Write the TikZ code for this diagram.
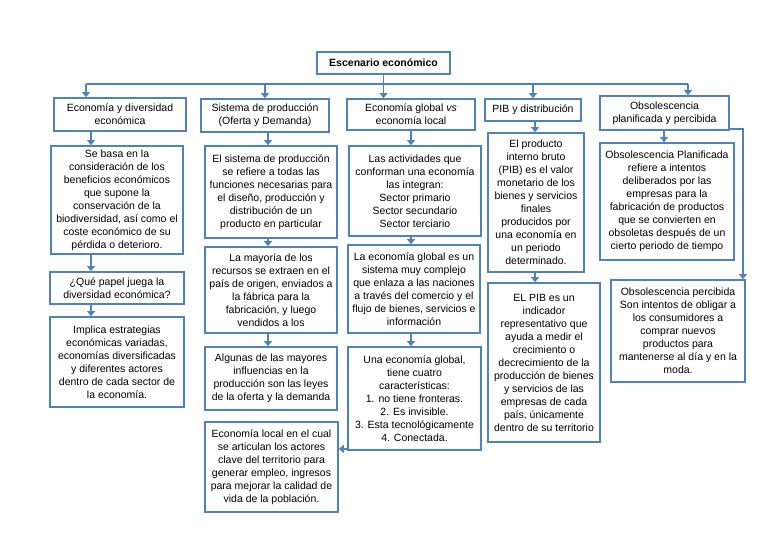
\documentclass[tikz,border=0pt]{standalone}
\usepackage{fontspec}
\setmainfont{Liberation Sans}
\usetikzlibrary{arrows.meta}
\usetikzlibrary{positioning}
\definecolor{boxblue}{RGB}{79,129,189}
\tikzset{every node/.style={inner sep=0pt, outer sep=0.85pt}}
\tikzset{mapbox/.style={rectangle,draw=boxblue,line width=1.7pt,fill=white,align=center,font=\fontsize{10.5}{13}\selectfont}}
\tikzset{conn/.style={draw=boxblue,line width=1.7pt}}
\tikzset{arr/.style={conn,-{Triangle[length=5pt,width=8pt]}}}

\begin{document}
\begin{tikzpicture}[x=1pt,y=-1pt]
    \useasboundingbox (0,0) rectangle (768,543);

    \node[mapbox,minimum width=133,minimum height=22,font=\fontsize{10.5}{13}\selectfont\bfseries] (Title) at (383.5,63) {Escenario económico};

    \node[mapbox,minimum width=132,minimum height=33] (EcoHead) at (120,114.5) {Economía y diversidad\\económica};
    \node[mapbox,minimum width=128,minimum height=33] (ProdHead) at (265,115.5) {Sistema de producción\\(Oferta y Demanda)};
    \node[mapbox,minimum width=128,minimum height=31] (GlobHead) at (411,114.5) {Economía global \textit{vs}\\economía local};
    \node[mapbox,minimum width=96,minimum height=22] (PibHead) at (533,110) {PIB y distribución};
    \node[mapbox,minimum width=129,minimum height=34] (ObsHead) at (664.5,113) {Obsolescencia\\planificada y percibida};

    \node[mapbox,minimum width=132,minimum height=108] (EcoText) at (117,200) {Se basa en la\\consideración de los\\beneficios económicos\\que supone la\\conservación de la\\biodiversidad, así como el\\coste económico de su\\pérdida o deterioro.};
    \node[mapbox,minimum width=134,minimum height=32] (EcoAsk) at (117,288) {¿Qué papel juega la\\diversidad económica?};
    \node[mapbox,minimum width=134,minimum height=90] (EcoAns) at (117,362) {Implica estrategias\\económicas variadas,\\economías diversificadas\\y diferentes actores\\dentro de cada sector de\\la economía.};

    \node[mapbox,minimum width=132,minimum height=92] (ProdText1) at (271,192) {El sistema de producción\\se refiere a todas las\\funciones necesarias para\\el diseño, producción y\\distribución de un\\producto en particular};
    \node[mapbox,minimum width=132,minimum height=86] (ProdText2) at (271,290) {La mayoría de los\\recursos se extraen en el\\país de origen, enviados a\\la fábrica para la\\fabricación, y luego\\vendidos a los};
    \node[mapbox,minimum width=132,minimum height=63] (ProdText3) at (271,378.5) {Algunas de las mayores\\influencias en la\\producción son las leyes\\de la oferta y la demanda};
    \node[mapbox,minimum width=133,minimum height=90] (GlobLocal) at (271.5,467) {Economía local en el cual\\se articulan los actores\\clave del territorio para\\generar empleo, ingresos\\para mejorar la calidad de\\vida de la población.};

    \node[mapbox,minimum width=132,minimum height=90] (GlobText1) at (415,191) {Las actividades que\\conforman una economía\\las integran:\\Sector primario\\Sector secundario\\Sector terciario};
    \node[mapbox,minimum width=132,minimum height=88] (GlobText2) at (414,289) {La economía global es un\\sistema muy complejo\\que enlaza a las naciones\\a través del comercio y el\\flujo de bienes, servicios e\\información};
    \node[mapbox,minimum width=133,minimum height=103] (GlobText3) at (414.5,398.5) {Una economía global,\\tiene cuatro\\características:\\1. no tiene fronteras.\\2. Es invisible.\\3. Esta tecnológicamente\\4. Conectada.};

    \node[mapbox,minimum width=96,minimum height=139] (PibText1) at (536,202.5) {El producto\\interno bruto\\(PIB) es el valor\\monetario de los\\bienes y servicios\\finales\\producidos por\\una economía en\\un periodo\\determinado.};
    \node[mapbox,minimum width=112,minimum height=159] (PibText2) at (544,362.5) {EL PIB es un\\indicador\\representativo que\\ayuda a medir el\\crecimiento o\\decrecimiento de la\\producción de bienes\\y servicios de las\\empresas de cada\\país, únicamente\\dentro de su territorio};

    \node[mapbox,minimum width=134,minimum height=117] (ObsText1) at (667,201.5) {Obsolescencia Planificada\\refiere a intentos\\deliberados por las\\empresas para la\\fabricación de productos\\que se convierten en\\obsoletas después de un\\cierto periodo de tiempo};
    \node[mapbox,minimum width=134,minimum height=102] (ObsText2) at (678,331) {Obsolescencia percibida\\Son intentos de obligar a\\los consumidores a\\comprar nuevos\\productos para\\mantenerse al día y en la\\moda.};

    \coordinate (BusW) at (86,84);
    \coordinate (BusE) at (688,84);
    \coordinate (Col1) at (91,0);
    \coordinate (Col2) at (268,0);
    \coordinate (Col3) at (411,0);
    \coordinate (Col4) at (535,0);
    \coordinate (Col5) at (664,0);
    \coordinate (Col6) at (743,0);

    \draw[conn] (BusW) -- (BusE);
    \draw[arr] (Title.south) -- (Title.south |- GlobHead.north);
    \draw[arr] (BusW) -- (BusW |- EcoHead.north);
    \draw[arr] (ProdHead.north |- BusW) -- (ProdHead.north);
    \draw[arr] (PibHead.north |- BusW) -- (PibHead.north);
    \draw[arr] (BusE) -- (BusE |- ObsHead.north);

    \draw[arr] (EcoHead.south -| Col1) -- (EcoText.north -| Col1);
    \draw[arr] (EcoText.south -| Col1) -- (EcoAsk.north -| Col1);
    \draw[arr] (EcoAsk.south -| Col1) -- (EcoAns.north -| Col1);

    \draw[arr] (ProdHead.south -| Col2) -- (ProdText1.north -| Col2);
    \draw[arr] (ProdText1.south -| Col2) -- (ProdText2.north -| Col2);
    \draw[arr] (ProdText2.south -| Col2) -- (ProdText3.north -| Col2);

    \draw[arr] (GlobHead.south -| Col3) -- (GlobText1.north -| Col3);
    \draw[arr] (GlobText1.south -| Col3) -- (GlobText2.north -| Col3);
    \draw[arr] (GlobText2.south -| Col3) -- (GlobText3.north -| Col3);
    \draw[arr] ([yshift=2pt]GlobText3.south west) -- ([yshift=2pt]GlobText3.south west -| GlobLocal.east);

    \draw[arr] (PibHead.south -| Col4) -- (PibText1.north -| Col4);
    \draw[arr] (PibText1.south -| Col4) -- (PibText2.north -| Col4);

    \draw[arr] (ObsHead.south -| Col5) -- (ObsText1.north -| Col5);
    \draw[arr] ([yshift=2pt]ObsHead.south east) -| (Col6 |- ObsText2.north);

\end{tikzpicture}
\end{document}
